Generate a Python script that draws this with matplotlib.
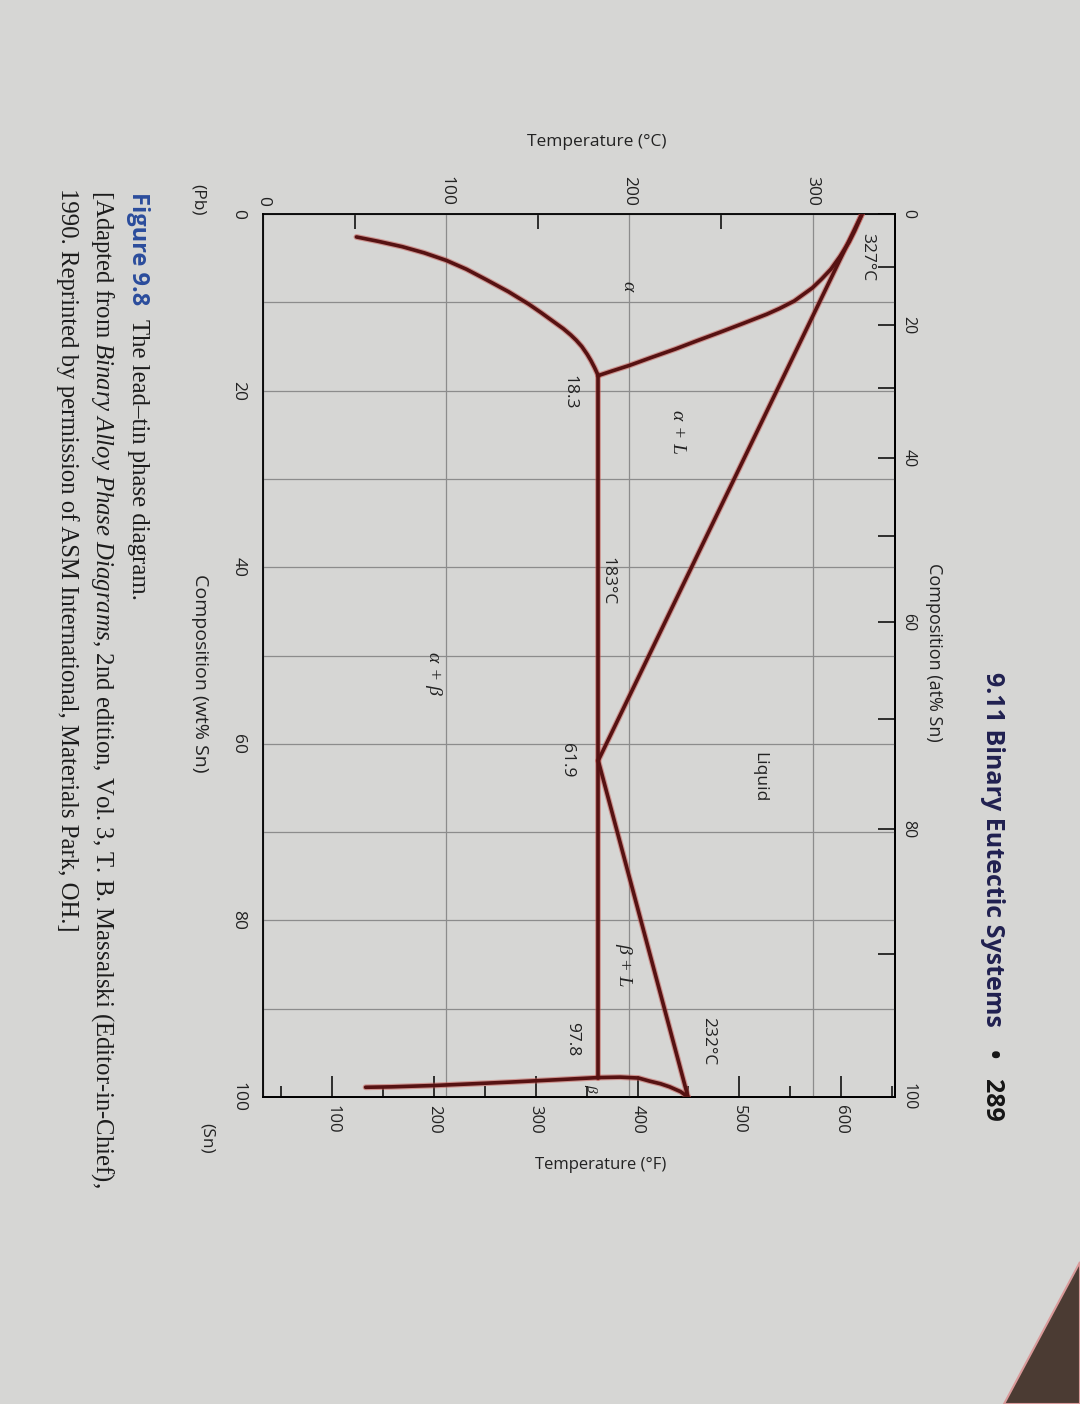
import numpy as np
import matplotlib.pyplot as plt
from matplotlib.patches import Polygon

# Lead-tin phase diagram.
# temperatures in deg C, compositions in wt% Sn
liquidus_pb_temp = [327, 183]
liquidus_pb_comp = [0, 61.9]
liquidus_sn_temp = [183, 232]
liquidus_sn_comp = [61.9, 100]
solidus_alpha_temp = [327, 323, 320, 315, 310, 305, 300, 295, 290, 282, 275, 262, 250, 237,
                      225, 212, 200, 191, 183]
solidus_alpha_comp = [0, 1.9, 3.15, 4.8, 6.25, 7.35, 8.35, 9.1, 9.85, 10.7, 11.35, 12.4, 13.35,
                      14.35, 15.3, 16.25, 17.15, 17.75, 18.3]
solvus_alpha_temp = [183, 181, 179, 177, 174, 171, 168, 164, 158, 152, 145, 134, 122, 111,
                     100, 88, 76, 63, 51]
solvus_alpha_comp = [18.3, 17.4, 16.6, 15.9, 15.0, 14.3, 13.7, 13.0, 12.1, 11.2, 10.2, 8.8,
                     7.45, 6.25, 5.25, 4.4, 3.7, 3.1, 2.6]
eutectic_temp = [183, 183]
eutectic_comp = [18.3, 97.8]
solvus_beta_temp = [183, 160, 136, 115, 93, 70, 56]
solvus_beta_comp = [97.8, 98.05, 98.3, 98.5, 98.7, 98.85, 98.9]
solidus_beta_temp = [183, 195, 205, 211, 217, 222, 228, 232]
solidus_beta_comp = [97.8, 97.75, 97.85, 98.2, 98.5, 98.85, 99.4, 100]

# labels written inside the diagram
sans_labels = ['327°C', '18.3', '183°C', 'Liquid', '61.9', '97.8', '232°C']
sans_label_temp = [330, 167, 188, 271, 166, 168.5, 243]
sans_label_comp = [4.9, 20.2, 41.6, 63.8, 61.9, 93.4, 93.7]
phase_labels = ['α', 'α + L', 'α + β', 'β + L', 'β']
phase_label_temp = [199, 226, 93, 197, 179]
phase_label_comp = [8.2, 24.7, 52, 85, 99.0]

celsius_ticks = [0, 100, 200, 300]
fahrenheit_ticks = [100, 200, 300, 400, 500, 600]
wt_ticks = [0, 20, 40, 60, 80, 100]
at_ticks = [0, 20, 40, 60, 80, 100]

M_SN = 118.71
M_PB = 207.2

SANS = 'Open Sans'
SERIF = 'Liberation Serif'
plt.rcParams['font.family'] = SANS
plt.rcParams['mathtext.fontset'] = 'custom'
plt.rcParams['mathtext.rm'] = SERIF
plt.rcParams['mathtext.it'] = SERIF + ':italic'

W, H = 1080, 1404
PAPER = '#d6d6d4'
GRID = '#8c8c8c'
INK = '#222222'


def px(x, y):
    # page position in pixels -> figure fraction
    return x / W, 1 - y / H


def c_to_f(c):
    return np.asarray(c, float) * 9 / 5 + 32


def f_to_c(f):
    return (np.asarray(f, float) - 32) * 5 / 9


def wt_to_at(wt):
    w = np.asarray(wt, float)
    with np.errstate(divide='ignore', invalid='ignore'):
        return (w / M_SN) / (w / M_SN + (100 - w) / M_PB) * 100


def at_to_wt(at):
    a = np.asarray(at, float)
    with np.errstate(divide='ignore', invalid='ignore'):
        return a * M_SN / (a * M_SN + (100 - a) * M_PB) * 100


def boundary(ax, temp, comp):
    # printed red line with a dark core, as it looks in the photo
    ax.plot(temp, comp, color='#c4504a', lw=4.2, alpha=0.5, solid_capstyle='round',
            solid_joinstyle='round', zorder=3)
    ax.plot(temp, comp, color='#561212', lw=2.6, solid_capstyle='round',
            solid_joinstyle='round', zorder=4)


fig = plt.figure(figsize=(W / 100, H / 100), dpi=100)
fig.patch.set_facecolor(PAPER)

# the page is photographed turned a quarter turn: temperature runs to the right,
# composition runs downwards
left, right, top, bottom = 263, 895, 214, 1097
ax = fig.add_axes([left / W, 1 - bottom / H, (right - left) / W, (bottom - top) / H])
ax.set_facecolor('none')
ax.set_xlim(0, 345)
ax.set_ylim(100, 0)

for s in ax.spines.values():
    s.set_linewidth(1.3)

ax.xaxis.tick_top()
ax.set_xticks(celsius_ticks)
ax.set_xticks([50, 150, 250], minor=True)
ax.set_yticks(wt_ticks)
ax.set_yticks(np.arange(10, 100, 20), minor=True)
ax.tick_params(axis='x', which='major', length=0, pad=6, labelsize=12.5, labelrotation=-90,
               labelcolor=INK)
ax.tick_params(axis='x', which='minor', direction='in', length=11, width=1.1,
               top=True, bottom=False)
ax.tick_params(axis='y', which='both', length=0, pad=12, labelsize=12.5, labelrotation=-90,
               labelcolor=INK)
plt.setp(ax.get_yticklabels(), va='center')
ax.grid(which='major', axis='x', color=GRID, lw=0.9)
ax.grid(which='both', axis='y', color=GRID, lw=0.9)

secx = ax.secondary_xaxis('bottom', functions=(c_to_f, f_to_c))
secx.set_xticks(fahrenheit_ticks)
secx.set_xticks(np.arange(50, 651, 100), minor=True)
secx.tick_params(which='major', direction='in', length=15, width=1.1, pad=6,
                 labelsize=12, labelrotation=-90, labelcolor=INK)
secx.tick_params(which='minor', direction='in', length=8, width=1.1)
secx.spines['bottom'].set_linewidth(1.3)

secy = ax.secondary_yaxis('right', functions=(wt_to_at, at_to_wt))
secy.set_yticks(at_ticks)
secy.set_yticks(np.arange(10, 100, 20), minor=True)
secy.tick_params(which='both', direction='in', length=12, width=1.1, pad=4,
                 labelsize=11.5, labelrotation=-90, labelcolor=INK)
plt.setp(secy.get_yticklabels(), va='center')
secy.spines['right'].set_linewidth(1.3)

boundary(ax, liquidus_pb_temp, liquidus_pb_comp)
boundary(ax, liquidus_sn_temp, liquidus_sn_comp)
boundary(ax, solidus_alpha_temp, solidus_alpha_comp)
boundary(ax, solvus_alpha_temp, solvus_alpha_comp)
boundary(ax, eutectic_temp, eutectic_comp)
boundary(ax, solvus_beta_temp, solvus_beta_comp)
boundary(ax, solidus_beta_temp, solidus_beta_comp)

for lab, t, c in zip(sans_labels, sans_label_temp, sans_label_comp):
    ax.text(t, c, lab, rotation=-90, ha='center', va='center', fontsize=12.5,
            color=INK, zorder=5)
for lab, t, c in zip(phase_labels, phase_label_temp, phase_label_comp):
    ax.text(t, c, lab, rotation=-90, ha='center', va='center',
            fontsize=11 if lab == 'β' else 14,
            family=SERIF, style='italic', color=INK, zorder=5)

# axis titles
fig.text(*px(597, 142), 'Temperature (°C)', ha='center', va='center', fontsize=12.5, color=INK)
fig.text(*px(601, 1165), 'Temperature (°F)', ha='center', va='center', fontsize=12, color=INK)
fig.text(*px(200, 673), 'Composition (wt% Sn)', rotation=-90, ha='center', va='center',
         fontsize=14, color=INK)
fig.text(*px(198, 200), '(Pb)', rotation=-90, ha='center', va='center', fontsize=12.5,
         color=INK)
fig.text(*px(207, 1138), '(Sn)', rotation=-90, ha='center', va='center', fontsize=12.5,
         color=INK)
fig.text(*px(934, 652), 'Composition (at% Sn)', rotation=-90, ha='center', va='center',
         fontsize=13, color=INK)

# running head of the page
head = fig.text(*px(993, 672), '9.11 Binary Eutectic Systems', rotation=-90, ha='center',
                va='top', fontsize=18, fontweight='bold', color='#202050')
ax.annotate('•   289', xy=(0.5, 0), xycoords=head, xytext=(0, -16), textcoords='offset points',
            rotation=-90, ha='center', va='top', fontsize=18, fontweight='bold',
            color='#151515', annotation_clip=False)

# figure caption
fig_no = fig.text(*px(138, 192), 'Figure 9.8', rotation=-90, ha='center', va='top',
                  fontsize=17, fontweight='bold', color='#2a4c9c')
ax.annotate('The lead–tin phase diagram.', xy=(0.5, 0), xycoords=fig_no, xytext=(0, -10),
            textcoords='offset points', rotation=-90, ha='center', va='top',
            fontsize=17.8, family=SERIF, color='#1c1c1c', annotation_clip=False)
fig.text(*px(102, 190),
         r'[Adapted from $\mathit{Binary\ Alloy\ Phase\ Diagrams}$, 2nd edition, Vol. 3, '
         r'T. B. Massalski (Editor-in-Chief),',
         rotation=-90, ha='center', va='top', fontsize=17.8, family=SERIF, color='#1c1c1c')
fig.text(*px(67, 188),
         '1990. Reprinted by permission of ASM International, Materials Park, OH.]',
         rotation=-90, ha='center', va='top', fontsize=17.8, family=SERIF, color='#1c1c1c')

# book edge showing in the lower right corner of the photo
fig.patches.append(Polygon([px(1080, 1262), px(1080, 1404), px(1004, 1404)], closed=True,
                           transform=fig.transFigure, facecolor='#4b3b33', edgecolor='#d99a9a',
                           lw=1.5, zorder=0))

fig.savefig('out.png', dpi=100, facecolor=fig.get_facecolor())
